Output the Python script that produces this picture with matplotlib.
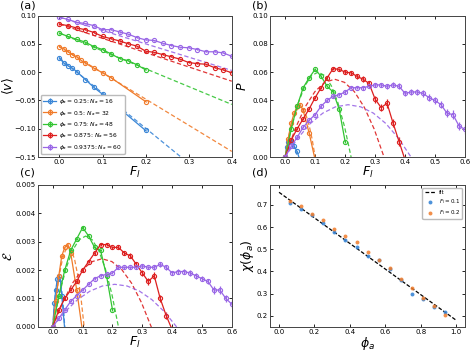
import matplotlib
matplotlib.use("Agg")
import matplotlib.pyplot as plt

# ---------------- colours / labels ----------------
colors = ['#3a86d6', '#f07b2a', '#33c433', '#dd1f1f', '#9966e6']
labels = [r'$\phi_a = 0.25$: $N_a = 16$', r'$\phi_a = 0.5$: $N_a = 32$',
          r'$\phi_a = 0.75$: $N_a = 48$', r'$\phi_a = 0.875$: $N_a = 56$',
          r'$\phi_a = 0.9375$: $N_a = 60$']

# ---------------- panel (a): <v> vs F_l ----------------
Fa_blue = [0, 0.01, 0.02, 0.03, 0.04, 0.06, 0.08, 0.1, 0.2]
va_blue = [0.025, 0.016, 0.011, 0.007, 0.001, -0.013, -0.027, -0.039, -0.103]
Fa_orange = [0, 0.01, 0.02, 0.03, 0.04, 0.05, 0.06, 0.08, 0.1, 0.12, 0.2]
va_orange = [0.045, 0.041, 0.036, 0.031, 0.027, 0.021, 0.016, 0.007, -0.001, -0.010, -0.052]
Fa_green = [0, 0.02, 0.04, 0.06, 0.08, 0.1, 0.12, 0.14, 0.16, 0.18, 0.2]
va_green = [0.069, 0.063, 0.058, 0.053, 0.045, 0.040, 0.032, 0.024, 0.020, 0.013, 0.004]
Fa_red = [0, 0.02, 0.04, 0.06, 0.08, 0.1, 0.12, 0.14, 0.16, 0.18, 0.2,
          0.22, 0.24, 0.26, 0.28, 0.3, 0.32, 0.34, 0.36, 0.38, 0.4]
va_red = [0.085, 0.082, 0.078, 0.075, 0.070, 0.063, 0.059, 0.055, 0.050, 0.046, 0.037,
          0.035, 0.031, 0.027, 0.023, 0.017, 0.015, 0.014, 0.008, 0.004, -0.001]
Fa_purple = Fa_red
va_purple = [0.097, 0.093, 0.088, 0.086, 0.082, 0.075, 0.075, 0.071, 0.067, 0.061, 0.057,
             0.056, 0.051, 0.047, 0.044, 0.043, 0.040, 0.036, 0.036, 0.034, 0.028]
va_err = [0.001, 0.001, 0.001, 0.001, 0.001]

# linear fits (dashed) in (a)
fitA_F = [[0, 0.3], [0, 0.4], [0, 0.4], [0, 0.4], [0, 0.4]]
fitA_v = [[0.025, -0.161], [0.045, -0.14], [0.069, -0.057], [0.085, -0.016], [0.097, 0.003]]

# ---------------- panel (b): P vs F_l ----------------
Fb_blue = [0, 0.005, 0.01, 0.015, 0.02, 0.03, 0.04, 0.05]
P_blue = [0, 0.007, 0.011, 0.012, 0.0105, 0.0075, 0.004, -0.003]
Fb_orange = [0, 0.01, 0.02, 0.03, 0.04, 0.05, 0.06, 0.08, 0.1]
P_orange = [0, 0.013, 0.024, 0.031, 0.036, 0.037, 0.033, 0.017, -0.002]
Fb_green = Fa_green
P_green = [0, 0.020, 0.036, 0.049, 0.056, 0.062, 0.057, 0.050, 0.046, 0.034, 0.011]
Fb_red = Fa_red
P_red = [0, 0.012, 0.020, 0.027, 0.034, 0.042, 0.049, 0.056, 0.0625, 0.062, 0.060,
         0.0595, 0.057, 0.055, 0.052, 0.041, 0.035, 0.038, 0.024, 0.011, -0.002]
P_red_err = [0.0005, 0.0008, 0.0008, 0.001, 0.001, 0.001, 0.001, 0.001, 0.001, 0.0012, 0.0012,
             0.0015, 0.0015, 0.002, 0.002, 0.0025, 0.0025, 0.003, 0.003, 0.003, 0.003]
Fb_purple = [0, 0.02, 0.04, 0.06, 0.08, 0.1, 0.12, 0.14, 0.16, 0.18, 0.2,
             0.22, 0.24, 0.26, 0.28, 0.3, 0.32, 0.34, 0.36, 0.38, 0.4,
             0.42, 0.44, 0.46, 0.48, 0.5, 0.52, 0.54, 0.56, 0.58, 0.6]
P_purple = [0, 0.0075, 0.014, 0.021, 0.026, 0.030, 0.036, 0.040, 0.043, 0.044, 0.046,
            0.049, 0.049, 0.049, 0.050, 0.051, 0.051, 0.050, 0.051, 0.050, 0.045,
            0.046, 0.046, 0.045, 0.042, 0.040, 0.037, 0.031, 0.030, 0.022, 0.0195]
P_purple_err = [0.0003, 0.0005, 0.0006, 0.0008, 0.0008, 0.001, 0.001, 0.001, 0.001, 0.001, 0.0012,
                0.0012, 0.0012, 0.0015, 0.0015, 0.0015, 0.0015, 0.0018, 0.0018, 0.002, 0.002,
                0.002, 0.0022, 0.0022, 0.0025, 0.0025, 0.0025, 0.003, 0.003, 0.003, 0.003]

# dashed fits in (b)
fitB_F = [[0, 0.004, 0.008, 0.012, 0.016, 0.02, 0.024, 0.028, 0.032, 0.036, 0.04, 0.044],
          [0, 0.01, 0.02, 0.03, 0.04, 0.05, 0.06, 0.07, 0.08, 0.09, 0.1, 0.11],
          [0, 0.022, 0.044, 0.066, 0.088, 0.11, 0.132, 0.154, 0.176, 0.198, 0.22, 0.242],
          [0, 0.033, 0.066, 0.099, 0.132, 0.165, 0.198, 0.231, 0.264, 0.297, 0.33, 0.363],
          [0, 0.042, 0.084, 0.126, 0.168, 0.21, 0.252, 0.294, 0.336, 0.378, 0.42, 0.462]]
fitB_P = [[0, 0.0040, 0.0070, 0.0092, 0.0106, 0.011, 0.0106, 0.0092, 0.0070, 0.0040, 0, -0.0048],
          [0, 0.0126, 0.0224, 0.0294, 0.0336, 0.035, 0.0336, 0.0294, 0.0224, 0.0126, 0, -0.0154],
          [0, 0.0216, 0.0384, 0.0504, 0.0576, 0.060, 0.0576, 0.0504, 0.0384, 0.0216, 0, -0.0264],
          [0, 0.0198, 0.0352, 0.0462, 0.0528, 0.055, 0.0528, 0.0462, 0.0352, 0.0198, 0, -0.0242],
          [0, 0.0133, 0.0237, 0.0311, 0.0355, 0.037, 0.0355, 0.0311, 0.0237, 0.0133, 0, -0.0163]]

# ---------------- panel (c): efficiency vs F_l ----------------
Fc_blue = [0, 0.005, 0.01, 0.015, 0.02, 0.025, 0.03, 0.04]
E_blue = [0, 0.00085, 0.0013, 0.0017, 0.0018, 0.0017, 0.0011, -0.0001]
Fc_orange = Fb_orange
E_orange = [0, 0.0009, 0.0018, 0.0025, 0.0028, 0.0029, 0.0026, 0.0013, -0.0002]
Fc_green = Fa_green
E_green = [0, 0.0011, 0.0020, 0.0027, 0.0031, 0.0035, 0.0032, 0.0028, 0.0027, 0.0018, 0.0006]
Fc_red = Fa_red
E_red = [0, 0.0006, 0.0010, 0.0013, 0.0016, 0.0020, 0.0023, 0.0026, 0.0029, 0.0029, 0.0028,
         0.0028, 0.0026, 0.0025, 0.0022, 0.0019, 0.0016, 0.0018, 0.0010, 0.0004, -0.0001]
E_red_err = [0.00003, 0.00004, 0.00004, 0.00005, 0.00005, 0.00005, 0.00005, 0.00005, 0.00005, 0.00006, 0.00006,
             0.00007, 0.00007, 0.00009, 0.00009, 0.00011, 0.00011, 0.00013, 0.00013, 0.00013, 0.00013]
Fc_purple = Fb_purple
E_purple = [0, 0.0003, 0.0006, 0.0009, 0.0011, 0.0013, 0.0015, 0.0017, 0.0018, 0.00185, 0.0019,
            0.0021, 0.0021, 0.0021, 0.0021, 0.00215, 0.0021, 0.0021, 0.0022, 0.0021, 0.0019,
            0.00195, 0.00195, 0.0019, 0.0018, 0.0017, 0.0016, 0.0013, 0.0013, 0.0010, 0.0008]
E_purple_err = [0.00001, 0.00002, 0.00003, 0.00003, 0.00003, 0.00004, 0.00004, 0.00004, 0.00004, 0.00004, 0.00005,
                0.00005, 0.00005, 0.00006, 0.00006, 0.00006, 0.00006, 0.00008, 0.00008, 0.00008, 0.00008,
                0.00008, 0.0001, 0.0001, 0.0001, 0.0001, 0.0001, 0.00013, 0.00013, 0.00013, 0.00013]

fitC_F = [[0, 0.004, 0.008, 0.012, 0.016, 0.02, 0.024, 0.028, 0.032, 0.036, 0.04, 0.044],
          [0, 0.0105, 0.021, 0.0315, 0.042, 0.0525, 0.063, 0.0735, 0.084, 0.0945, 0.105, 0.1155],
          [0, 0.022, 0.044, 0.066, 0.088, 0.11, 0.132, 0.154, 0.176, 0.198, 0.22, 0.242],
          [0, 0.033, 0.066, 0.099, 0.132, 0.165, 0.198, 0.231, 0.264, 0.297, 0.33, 0.363],
          [0, 0.0415, 0.083, 0.1245, 0.166, 0.2075, 0.249, 0.2905, 0.332, 0.3735, 0.415, 0.4565]]
fitC_E = [[0, 0.00061, 0.00109, 0.00143, 0.00163, 0.0017, 0.00163, 0.00143, 0.00109, 0.00061, 0, -0.00075],
          [0, 0.00101, 0.00179, 0.00235, 0.00269, 0.0028, 0.00269, 0.00235, 0.00179, 0.00101, 0, -0.00123],
          [0, 0.00115, 0.00205, 0.00269, 0.00307, 0.0032, 0.00307, 0.00269, 0.00205, 0.00115, 0, -0.00141],
          [0, 0.00086, 0.00154, 0.00202, 0.0023, 0.0024, 0.0023, 0.00202, 0.00154, 0.00086, 0, -0.00106],
          [0, 0.00054, 0.00096, 0.00126, 0.00144, 0.0015, 0.00144, 0.00126, 0.00096, 0.00054, 0, -0.00066]]

# ---------------- panel (d): chi(phi_a) ----------------
phi_d = [0.0625, 0.125, 0.1875, 0.25, 0.3125, 0.375, 0.4375, 0.5, 0.5625,
         0.625, 0.6875, 0.75, 0.8125, 0.875, 0.9375]
chi_F01 = [0.708, 0.680, 0.654, 0.618, 0.577, 0.542, 0.508, 0.471, 0.450,
           0.410, 0.363, 0.300, 0.276, 0.240, 0.217]
chi_F02 = [0.718, 0.695, 0.661, 0.632, 0.592, 0.562, 0.531, 0.486, 0.453,
           0.414, 0.366, 0.327, 0.280, 0.242, 0.204]
fit_phi = [0.0, 1.0]
fit_chi = [0.757, 0.180]

# ---------------- drawing ----------------
fig = plt.figure(figsize=(4.74, 3.53), dpi=100)
axA = fig.add_axes([0.080, 0.555, 0.409, 0.401])
axB = fig.add_axes([0.570, 0.555, 0.411, 0.401])
axC = fig.add_axes([0.080, 0.074, 0.409, 0.402])
axD = fig.add_axes([0.570, 0.074, 0.411, 0.402])

ms = 3.0
lw = 0.9


def series(ax, x, y, c, err, label=None):
    return ax.errorbar(x, y, yerr=err, color=c, marker='o', ms=ms, mfc='none',
                       mec=c, mew=0.8, lw=lw, elinewidth=0.9, capsize=0, label=label)


def dashed(ax, x, y, c):
    ax.plot(x, y, ls=(0, (3.5, 2)), color=c, lw=0.9, alpha=0.9)


# (a)
dataA = [(Fa_blue, va_blue), (Fa_orange, va_orange), (Fa_green, va_green),
         (Fa_red, va_red), (Fa_purple, va_purple)]
for i, (x, y) in enumerate(dataA):
    dashed(axA, fitA_F[i], fitA_v[i], colors[i])
    series(axA, x, y, colors[i], va_err[i], labels[i])
axA.set_xlim(-0.05, 0.4)
axA.set_ylim(-0.15, 0.10)
axA.set_xticks([0.0, 0.1, 0.2, 0.3, 0.4])
axA.set_yticks([-0.15, -0.10, -0.05, 0.00, 0.05, 0.10])
axA.set_yticklabels(['−0.15', '−0.10', '−0.05', '0.00', '0.05', '0.10'])
axA.set_xlabel(r'$F_l$', fontsize=9, labelpad=0)
axA.set_ylabel(r'$\langle v \rangle$', fontsize=9)
axA.yaxis.set_label_coords(-0.115, 0.5)
leg = axA.legend(loc='lower left', fontsize=4.3, handlelength=2.2, labelspacing=0.4,
                 borderpad=0.4, handletextpad=0.5, framealpha=1, edgecolor='#bbbbbb',
                 bbox_to_anchor=(0.0, 0.0))

# (b)
dataB = [(Fb_blue, P_blue, 0.0005), (Fb_orange, P_orange, 0.0006), (Fb_green, P_green, 0.0008),
         (Fb_red, P_red, P_red_err), (Fb_purple, P_purple, P_purple_err)]
for i, (x, y, e) in enumerate(dataB):
    dashed(axB, fitB_F[i], fitB_P[i], colors[i])
    series(axB, x, y, colors[i], e)
axB.set_xlim(-0.05, 0.6)
axB.set_ylim(0, 0.10)
axB.set_xticks([0.0, 0.1, 0.2, 0.3, 0.4, 0.5, 0.6])
axB.set_yticks([0.0, 0.02, 0.04, 0.06, 0.08, 0.10])
axB.set_yticklabels(['0.00', '0.02', '0.04', '0.06', '0.08', '0.10'])
axB.set_xlabel(r'$F_l$', fontsize=9, labelpad=0)
axB.set_ylabel(r'$P$', fontsize=9)
axB.yaxis.set_label_coords(-0.11, 0.5)

# (c)
dataC = [(Fc_blue, E_blue, 0.00003), (Fc_orange, E_orange, 0.00003), (Fc_green, E_green, 0.00004),
         (Fc_red, E_red, E_red_err), (Fc_purple, E_purple, E_purple_err)]
for i, (x, y, e) in enumerate(dataC):
    dashed(axC, fitC_F[i], fitC_E[i], colors[i])
    series(axC, x, y, colors[i], e)
axC.set_xlim(-0.05, 0.6)
axC.set_ylim(0, 0.005)
axC.set_xticks([0.0, 0.1, 0.2, 0.3, 0.4, 0.5, 0.6])
axC.set_yticks([0.0, 0.001, 0.002, 0.003, 0.004, 0.005])
axC.set_yticklabels(['0.000', '0.001', '0.002', '0.003', '0.004', '0.005'])
axC.set_xlabel(r'$F_l$', fontsize=9, labelpad=0)
axC.set_ylabel(r'$\mathcal{E}$', fontsize=9)
axC.yaxis.set_label_coords(-0.12, 0.5)

# (d)
axD.plot(fit_phi, fit_chi, ls=(0, (3, 1.5)), color='black', lw=0.9, label='fit')
axD.scatter(phi_d, chi_F01, s=8, color=colors[0], alpha=0.9, lw=0, label=r'$F_l = 0.1$', zorder=3)
axD.scatter(phi_d, chi_F02, s=8, color=colors[1], alpha=0.85, lw=0, label=r'$F_l = 0.2$', zorder=3)
axD.set_xlim(-0.05, 1.05)
axD.set_ylim(0.15, 0.79)
axD.set_xticks([0.0, 0.2, 0.4, 0.6, 0.8, 1.0])
axD.set_yticks([0.2, 0.3, 0.4, 0.5, 0.6, 0.7])
axD.set_xlabel(r'$\phi_a$', fontsize=9, labelpad=0)
axD.set_ylabel(r'$\chi(\phi_a)$', fontsize=9)
axD.yaxis.set_label_coords(-0.075, 0.5)
axD.legend(loc='upper right', fontsize=4.0, handlelength=2.0, labelspacing=0.4,
           borderpad=0.4, handletextpad=0.5, framealpha=1, edgecolor='#bbbbbb')

for ax in (axA, axB, axC, axD):
    ax.tick_params(direction='in', top=True, right=True, labelsize=5.0, length=2.5,
                   width=0.6, pad=1.5)
    for s in ax.spines.values():
        s.set_linewidth(0.7)
        s.set_color('#444444')

fig.text(0.042, 0.985, '(a)', fontsize=8, va='center', ha='left')
fig.text(0.532, 0.985, '(b)', fontsize=8, va='center', ha='left')
fig.text(0.042, 0.510, '(c)', fontsize=8, va='center', ha='left')
fig.text(0.532, 0.510, '(d)', fontsize=8, va='center', ha='left')

fig.savefig('out.png', dpi=100)
